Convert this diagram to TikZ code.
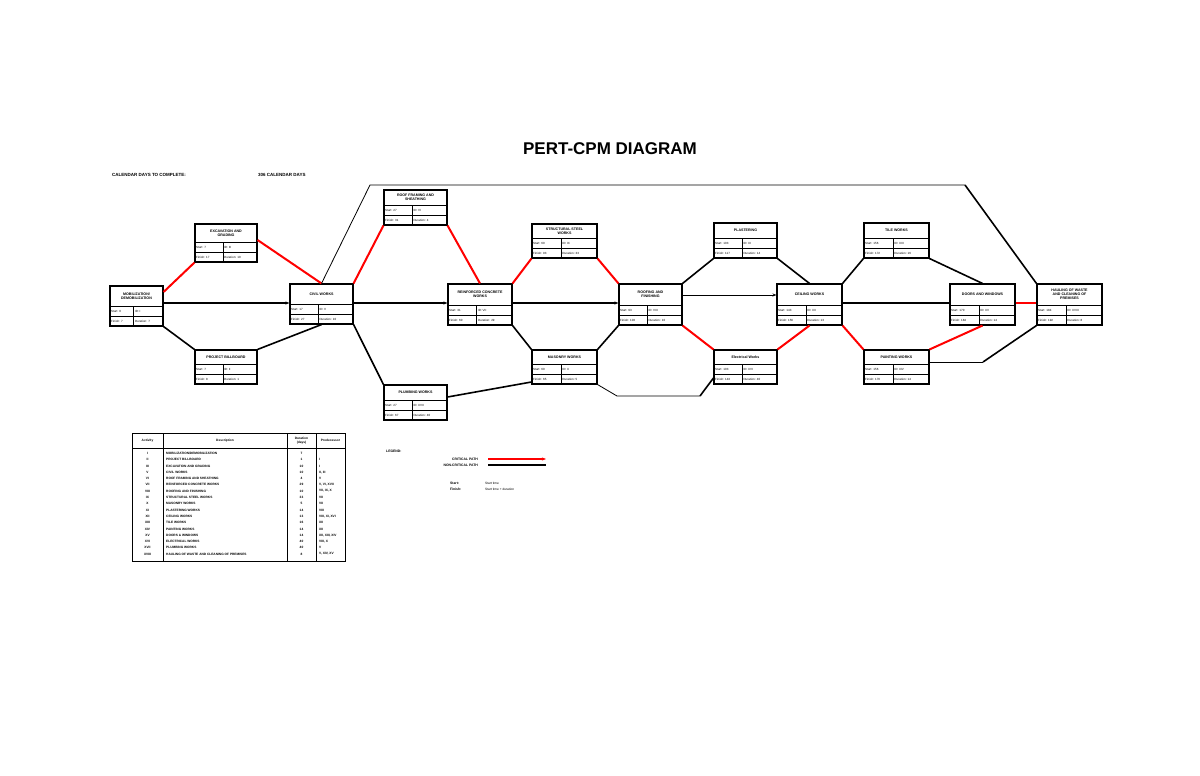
\documentclass[tikz,border=0pt]{standalone}
\usepackage{fontspec}
\setmainfont{Liberation Sans}
\usetikzlibrary{fit,arrows.meta}
\tikzset{box/.style={draw,line width=1.1pt,inner sep=0pt},
 ttl/.style={font=\fontsize{3.6}{4}\selectfont\bfseries,align=center},
 cell/.style={font=\fontsize{3}{3.5}\selectfont,anchor=west,inner sep=1pt},
 crit/.style={red,line width=2pt},
 ncrit/.style={black,line width=1.6pt},
 thin/.style={black,line width=0.8pt}}
\def\splitfd#1/#2\relax{\def\pfin{#1}\def\pdur{#2}}
% name, left, top, right, bottom, title, ES, ID, EF/Dur
\newcommand\pbox[9]{%
 \splitfd#9\relax
 \node[box,fit={(#2,#3)(#4,#5)}] (#1) {};
 \draw[line width=0.8pt] (#2,#5-20) -- (#4,#5-20) (#2,#5-10) -- (#4,#5-10) ({#2+0.45*(#4-#2)},#5-20) -- ({#2+0.45*(#4-#2)},#5);
 \node[ttl] at ({(#2+#4)/2},{(#3+#5-20)/2}) {#6};
 \node[cell] at (#2,#5-15) {Start: #7};
 \node[cell] at ({#2+0.45*(#4-#2)},#5-15) {ID: #8};
 \node[cell] at (#2,#5-5) {Finish: \pfin};
 \node[cell] at ({#2+0.45*(#4-#2)},#5-5) {Duration: \pdur};
}
\begin{document}
\begin{tikzpicture}[x=1pt,y=-1pt]
\fill[white] (0,0) rectangle (1200,776);
\useasboundingbox (0,0) rectangle (1200,776);
\node[font=\fontsize{17}{18}\selectfont\bfseries] (title) at (610,149) {PERT-CPM DIAGRAM};
\node[font=\fontsize{4.5}{5}\selectfont\bfseries,anchor=west,inner sep=0] (cd) at (112,175) {CALENDAR DAYS TO COMPLETE:};
\node[font=\fontsize{4.5}{5}\selectfont\bfseries,anchor=west,inner sep=0] (cdv) at (258,175) {306 CALENDAR DAYS};

\pbox{n1}{110}{286}{163}{326}{MOBILIZATION/\\DEMOBILIZATION}{0}{I}{7/7}
\pbox{n3}{195}{224}{257}{262}{EXCAVATION AND\\GRADING}{7}{III}{17/10}
\pbox{n2}{195}{350}{257}{384}{PROJECT BILLBOARD}{7}{II}{8/1}
\pbox{n5}{290}{284}{353}{324}{CIVIL WORKS}{17}{V}{27/10}
\pbox{n6}{384}{190}{447}{225}{ROOF FRAMING AND\\SHEATHING}{27}{VI}{31/4}
\pbox{n17}{384}{385}{447}{420}{PLUMBING WORKS}{27}{XVII}{67/40}
\pbox{n7}{448}{284}{512}{325}{REINFORCED CONCRETE\\WORKS}{31}{VII}{60/29}
\pbox{n9}{532}{224}{597}{258}{STRUCTURAL STEEL\\WORKS}{60}{IX}{93/33}
\pbox{n10}{532}{350}{597}{384}{MASONRY WORKS}{60}{X}{65/5}
\pbox{n8}{619}{284}{682}{325}{ROOFING AND\\FINISHING}{93}{VIII}{103/10}
\pbox{n11}{714}{223}{777}{258}{PLASTERING}{103}{XI}{117/14}
\pbox{n16}{714}{350}{777}{384}{Electrical Works}{103}{XVI}{143/40}
\pbox{n12}{777}{284}{842}{325}{CEILING WORKS}{143}{XII}{156/13}
\pbox{n13}{864}{223}{929}{258}{TILE WORKS}{156}{XIII}{172/16}
\pbox{n14}{864}{350}{929}{384}{PAINTING WORKS}{156}{XIV}{170/14}
\pbox{n15}{950}{284}{1015}{325}{DOORS AND WINDOWS}{170}{XV}{184/14}
\pbox{n18}{1037}{284}{1102}{325}{HAULING OF WASTE\\AND CLEANING OF\\PREMISES}{184}{XVIII}{192/8}

% spine
\draw[ncrit,-{Stealth[length=4pt]}] (n1.east |- 0,303) -- (n5.west |- 0,303);
\draw[ncrit,-{Stealth[length=4pt]}] (n5.east |- 0,303) -- (n7.west |- 0,303);
\draw[ncrit,-{Stealth[length=4pt]}] (n7.east |- 0,303) -- (n8.west |- 0,303);
\draw[thin,-{Stealth[length=4pt]}] (n8.east |- 0,295) -- (n12.west |- 0,295);
\draw[ncrit] (n12.east |- 0,303) -- (n15.west |- 0,303);
\draw[crit] (n15.east |- 0,303) -- (n18.west |- 0,303);
% critical
\draw[crit] (n1.east |- 0,292) -- (n3.south west);
\draw[crit] (n3.north east |- 0,240) -- (n5.north);
\draw[crit] (n5.north east) -- (n6.south west);
\draw[crit] (n6.south east) -- (n7.north);
\draw[crit] (n7.north east) -- (n9.south west);
\draw[crit] (n9.south east) -- (n8.north west);
\draw[crit] (n8.south east) -- (n16.north west);
\draw[crit] (n16.north east) -- (n12.south);
\draw[crit] (n12.south east) -- (n14.north west);
\draw[crit] (n14.north east) -- (n15.south);
% non-critical
\draw[ncrit] (n1.south east) -- (n2.north west);
\draw[ncrit] (n2.north east) -- (n5.south);
\draw[ncrit] (n5.south east) -- (n17.north west);
\draw[ncrit] (n7.south east) -- (n10.north west);
\draw[ncrit] (n10.north east) -- (n8.south west);
\draw[ncrit] (n8.north east) -- (n11.south west);
\draw[ncrit] (n11.south east) -- (n12.north);
\draw[ncrit] (n12.north east) -- (n13.south west);
\draw[ncrit] (n13.south east) -- (n15.north);
\draw[ncrit] (n17.east |- 0,397) -- (n10.south west |- 0,382);
\draw[thin] (n10.south east) -- (617,396) -- (700,396);
\draw[ncrit] (700,396) -- (n16.south west |- 0,378);
\draw[thin] (n14.east |- 0,362) -- (983,362);
\draw[ncrit] (983,362) -- (n18.south west);
\draw[thin] (n5.north) -- (370,185) -- (965,185);
\draw[ncrit] (965,185) -- (n18.north west);

% table
\begin{scope}[font=\fontsize{3.2}{3.6}\selectfont\bfseries]
\draw[line width=1pt] (132,433) rectangle (345,561);
\draw[line width=0.8pt] (132,448) -- (345,448);
\foreach \x in {163,287,316} \draw[line width=0.8pt] (\x,433) -- (\x,561);
\node (h1) at (147.5,440.5) {Activity};
\node (h2) at (225,440.5) {Description};
\node[align=center] (h3) at (301.5,440.5) {Duration\\(days)};
\node (h4) at (330.5,440.5) {Predecessor};
\foreach \a/\d/\u/\p [count=\i] in {I/{MOBILIZATION/DEMOBILIZATION}/7/{},II/PROJECT BILLBOARD/1/I,III/EXCAVATION AND GRADING/10/I,V/CIVIL WORKS/10/{II, III},VI/ROOF FRAMING AND SHEATHING/4/V,VII/REINFORCED CONCRETE WORKS/29/{V, VI, XVII},VIII/ROOFING AND FINISHING/10/{VII, IX, X},IX/STRUCTURAL STEEL WORKS/33/VII,X/MASONRY WORKS/5/VII,XI/PLASTERING WORKS/14/VIII,XII/CEILING WORKS/13/{VIII, XI, XVI},XIII/TILE WORKS/16/XII,XIV/PAINTING WORKS/14/XII,XV/DOORS \& WINDOWS/14/{XII, XIII, XIV},XVI/ELECTRICAL WORKS/40/{VIII, X},XVII/PLUMBING WORKS/40/V,XVIII/HAULING OF WASTE AND CLEANING OF PREMISES/8/{V, XIV, XV}}{
 \node[inner sep=0] at (147.5,{447+6.3*\i}) {\a};
 \node[anchor=west,inner sep=0] at (166,{447+6.3*\i}) {\d};
 \node[inner sep=0] at (301.5,{447+6.3*\i}) {\u};
 \node[anchor=west,inner sep=0] at (319,{447+6.3*\i}) {\p};
}
\end{scope}

% legend
\begin{scope}[font=\fontsize{3.4}{4}\selectfont\bfseries]
\node[anchor=west,inner sep=0] (lg) at (386,451) {LEGEND:};
\node[anchor=east,inner sep=0] (lc) at (478,459) {CRITICAL PATH};
\node[anchor=east,inner sep=0] (ln) at (478,465) {NON-CRITICAL PATH};
\coordinate (lc1) at (488,459); \coordinate (lc2) at (546,459);
\coordinate (ln1) at (488,465); \coordinate (ln2) at (546,465);
\draw[crit,-{Stealth[length=4pt]}] (lc1) -- (lc2);
\draw[ncrit] (ln1) -- (ln2);
\node[anchor=west,inner sep=0] (ls) at (450,483) {Start:};
\node[anchor=west,inner sep=0] (lf) at (450,489) {Finish:};
\node[anchor=west,inner sep=0,font=\fontsize{3.2}{4}\selectfont] (ls2) at (485,483) {Start time};
\node[anchor=west,inner sep=0,font=\fontsize{3.2}{4}\selectfont] (lf2) at (485,489) {Start time + duration};
\end{scope}
\end{tikzpicture}
\end{document}
